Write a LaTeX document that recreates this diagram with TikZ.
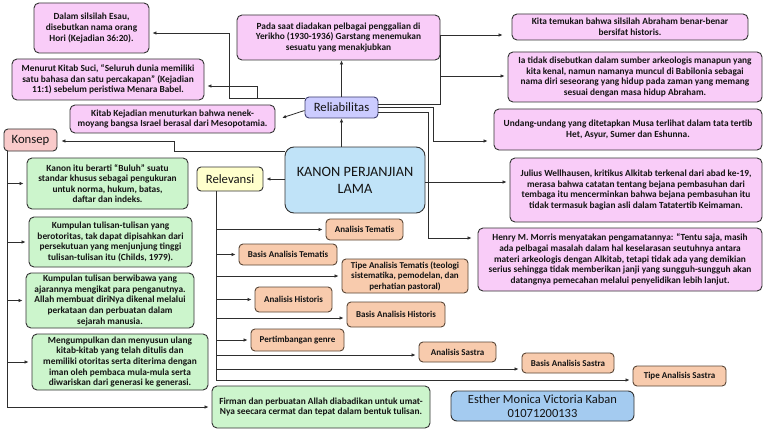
\documentclass[tikz,border=0pt]{standalone}
\usepackage{fontspec}
\setmainfont{Carlito}
\usetikzlibrary{arrows.meta,calc}
\definecolor{pinkf}{HTML}{F9CCF8}
\definecolor{greenf}{HTML}{CCF5CC}
\definecolor{orangef}{HTML}{F8CBAD}
\definecolor{orangeb}{HTML}{5A4636}
\definecolor{konsepf}{HTML}{F9CACA}
\definecolor{relif}{HTML}{CCCCFF}
\definecolor{relib}{HTML}{3C3C6E}
\definecolor{kanonf}{HTML}{C0E3F8}
\definecolor{relevf}{HTML}{FFFFCC}
\definecolor{estherf}{HTML}{A4CBF0}
\definecolor{bordc}{HTML}{333333}
\definecolor{linec}{HTML}{2E2E2E}
\definecolor{txtc}{HTML}{141414}
\tikzset{
  base/.style={draw=bordc, line width=0.9pt, rounded corners=5pt, align=center, text=txtc, inner sep=1pt,
    font=\fontsize{9.35}{10.6}\selectfont\bfseries},
  pinkbox/.style={base, fill=pinkf},
  greenbox/.style={base, fill=greenf},
  orangebox/.style={base, fill=orangef, draw=orangeb, rounded corners=4pt, font=\fontsize{9}{10.4}\selectfont\bfseries},
  konsepbox/.style={base, fill=konsepf, rounded corners=4pt, font=\fontsize{12.7}{14}\selectfont},
  relibox/.style={base, fill=relif, draw=relib, rounded corners=4pt, font=\fontsize{12.7}{14}\selectfont},
  relevbox/.style={base, fill=relevf, rounded corners=4pt, font=\fontsize{12.7}{14}\selectfont},
  kanonbox/.style={base, fill=kanonf, rounded corners=9pt, font=\fontsize{14.3}{17}\selectfont},
  estherbox/.style={base, fill=estherf, rounded corners=6pt, font=\fontsize{12.5}{14}\selectfont},
  arr/.style={draw=linec, line width=0.8pt, -{Latex[length=4pt,width=3.6pt]}, shorten >=3pt},
  ln/.style={draw=linec, line width=0.8pt},
}
\begin{document}
\begin{tikzpicture}[x=1pt,y=-1pt]
\useasboundingbox[fill=white] (0,0) rectangle (768,433);

% pink boxes left/top
\node[pinkbox, minimum width=115pt, minimum height=50pt] (dalam) at (91.5,28) {Dalam silsilah Esau,\\disebutkan nama orang\\Hori (Kejadian 36:20).};
\node[pinkbox, minimum width=192pt, minimum height=41pt] (menurut) at (108,79.5) {Menurut Kitab Suci, “Seluruh dunia memiliki\\satu bahasa dan satu percakapan” (Kejadian\\11:1) sebelum peristiwa Menara Babel.};
\node[pinkbox, minimum width=205pt, minimum height=28pt] (kejadian) at (172.5,119) {Kitab Kejadian menuturkan bahwa nenek-\\moyang bangsa Israel berasal dari Mesopotamia.};
\node[konsepbox, minimum width=53pt, minimum height=22pt] (konsep) at (30.5,140) {Konsep};
\node[pinkbox, minimum width=203pt, minimum height=45pt] (pada) at (338.5,37.5) {Pada saat diadakan pelbagai penggalian di\\Yerikho (1930-1936) Garstang menemukan\\sesuatu yang menakjubkan};
\node[relibox, minimum width=73pt, minimum height=21pt] (reliab) at (341.5,107.5) {Reliabilitas};

% pink boxes right
\node[pinkbox, minimum width=236pt, minimum height=26pt] (kita) at (630,27) {Kita temukan bahwa silsilah Abraham benar-benar\\bersifat historis.};
\node[pinkbox, minimum width=254pt, minimum height=50pt] (ia) at (635,77) {Ia tidak disebutkan dalam sumber arkeologis manapun yang\\kita kenal, namun namanya muncul di Babilonia sebagai\\nama diri seseorang yang hidup pada zaman yang memang\\sesuai dengan masa hidup Abraham.};
\node[pinkbox, minimum width=268pt, minimum height=41pt] (undang) at (628,129.5) {Undang-undang yang ditetapkan Musa terlihat dalam tata tertib\\Het, Asyur, Sumer dan Eshunna.};
\node[pinkbox, minimum width=252pt, minimum height=64pt] (julius) at (636,190) {Julius Wellhausen, kritikus Alkitab terkenal dari abad ke-19,\\merasa bahwa catatan tentang bejana pembasuhan dari\\tembaga itu mencerminkan bahwa bejana pembasuhan itu\\tidak termasuk bagian asli dalam Tatatertib Keimaman.};
\node[pinkbox, minimum width=284pt, minimum height=63pt] (henry) at (620,259.5) {Henry M. Morris menyatakan pengamatannya: “Tentu saja, masih\\ada pelbagai masalah dalam hal keselarasan seutuhnya antara\\materi arkeologis dengan Alkitab, tetapi tidak ada yang demikian\\serius sehingga tidak memberikan janji yang sungguh-sungguh akan\\datangnya pemecahan melalui penyelidikan lebih lanjut.};

% centre
\node[kanonbox, minimum width=140pt, minimum height=66pt] (kanon) at (355,180) {KANON PERJANJIAN\\LAMA};
\node[relevbox, minimum width=66pt, minimum height=24pt] (relev) at (230,179) {Relevansi};

% green boxes
\node[greenbox, minimum width=161pt, minimum height=51pt] (kanonitu) at (107.5,183.5) {Kanon itu berarti “Buluh” suatu\\standar khusus sebagai pengukuran\\untuk norma, hukum, batas,\\daftar dan indeks.};
\node[greenbox, minimum width=163pt, minimum height=50pt] (kump1) at (110.5,242) {Kumpulan tulisan-tulisan yang\\berotoritas, tak dapat dipisahkan dari\\persekutuan yang menjunjung tinggi\\tulisan-tulisan itu (Childs, 1979).};
\node[greenbox, minimum width=168pt, minimum height=55pt] (kump2) at (110,300.5) {Kumpulan tulisan berwibawa yang\\ajarannya mengikat para penganutnya.\\Allah membuat diriNya dikenal melalui\\perkataan dan perbuatan dalam\\sejarah manusia.};
\node[greenbox, minimum width=176pt, minimum height=56pt] (mengump) at (120,362) {Mengumpulkan dan menyusun ulang\\kitab-kitab yang telah ditulis dan\\memiliki otoritas serta diterima dengan\\iman oleh pembaca mula-mula serta\\diwariskan dari generasi ke generasi.};
\node[greenbox, minimum width=218pt, minimum height=42pt] (firman) at (321,407) {Firman dan perbuatan Allah diabadikan untuk umat-\\Nya seecara cermat dan tepat dalam bentuk tulisan.};

% orange boxes
\node[orangebox, minimum width=77pt, minimum height=21pt] (at) at (364.5,229.5) {Analisis Tematis};
\node[orangebox, minimum width=98pt, minimum height=21pt] (bat) at (288,254.5) {Basis Analisis Tematis};
\node[orangebox, minimum width=126pt, minimum height=34pt] (tat) at (405,276) {Tipe Analisis Tematis (teologi\\sistematika, pemodelan, dan\\perhatian pastoral)};
\node[orangebox, minimum width=77pt, minimum height=25pt] (ah) at (293.5,299.5) {Analisis Historis};
\node[orangebox, minimum width=98pt, minimum height=25pt] (bah) at (396,314.5) {Basis Analisis Historis};
\node[orangebox, minimum width=93pt, minimum height=22pt] (pg) at (297.5,340) {Pertimbangan genre};
\node[orangebox, minimum width=77pt, minimum height=20pt] (as) at (457.5,352) {Analisis Sastra};
\node[orangebox, minimum width=92pt, minimum height=20pt] (bas) at (568,363) {Basis Analisis Sastra};
\node[orangebox, minimum width=93pt, minimum height=20pt] (tas) at (679.5,376) {Tipe Analisis Sastra};

\node[estherbox, minimum width=183pt, minimum height=30pt] (esther) at (542.5,406) {Esther Monica Victoria Kaban\\01071200133};

% ---- connectors: Reliabilitas
\draw[arr, shorten >=0pt] (kanon.north -| reliab.south) -- (reliab.south);
\draw[arr, shorten >=0pt] (reliab.north) -- (reliab.north |- pada.south);
\draw[arr, shorten >=7pt] ([yshift=-3pt]reliab.west) -- ([yshift=-1pt]kejadian.east);
\draw[arr] ([yshift=-2pt]reliab.north west) -| (229,33) -- (dalam.east |- 0,33);
\draw[arr] ([yshift=-2pt]reliab.north west) -| (257,86) -- (menurut.east |- 0,86);
\draw[arr, shorten >=9pt] ([yshift=-8pt]reliab.north east) -| (440,35) -- (kita.west |- 0,35);
\draw[arr] (440,76) -- (ia.west |- 0,76);
\draw[arr, shorten >=6pt] ([yshift=-11pt]reliab.north east) -| (433,141) -- (undang.west |- 0,141);
\draw[arr, shorten >=6pt] ([yshift=-16pt]reliab.north east) -| (428,238) -- (henry.west |- 0,238);

% ---- connectors: KANON
\draw[arr] ([yshift=-2pt]kanon.east) -- (julius.west |- 0,182);
\draw[arr] (kanon.west |- relev.east) -- (relev.east);
\draw[arr, shorten >=4pt] ([yshift=-5pt]kanon.north west) -| (174,141) -- (konsep.east |- 0,141);

% ---- Relevansi branches
\draw[ln] (relev.south -| 216,0) -- (216,380);
\draw[arr] (at.west -| 216,0) -- (at.west);
\draw[arr] (bat.west -| 216,0) -- (bat.west);
\draw[arr] (tat.west -| 216,0) -- (tat.west);
\draw[arr] (ah.west -| 216,0) -- (ah.west);
\draw[arr] (216,318) -- (bah.west |- 0,318);
\draw[arr] (pg.west -| 216,0) -- (pg.west);
\draw[arr] (216,355) -- (as.west |- 0,355);
\draw[arr] (216,369) -- (bas.west |- 0,369);
\draw[arr] (216,380) -- (tas.west |- 0,380);

% ---- Konsep branches
\draw[arr] (konsep.south -| 7,0) -- (7,407) -- (firman.west);
\draw[arr] (kanonitu.west -| 7,0) -- (kanonitu.west);
\draw[arr] (kump1.west -| 7,0) -- (kump1.west);
\draw[arr] (kump2.west -| 7,0) -- (kump2.west);
\draw[arr] (mengump.west -| 7,0) -- (mengump.west);
\end{tikzpicture}
\end{document}
